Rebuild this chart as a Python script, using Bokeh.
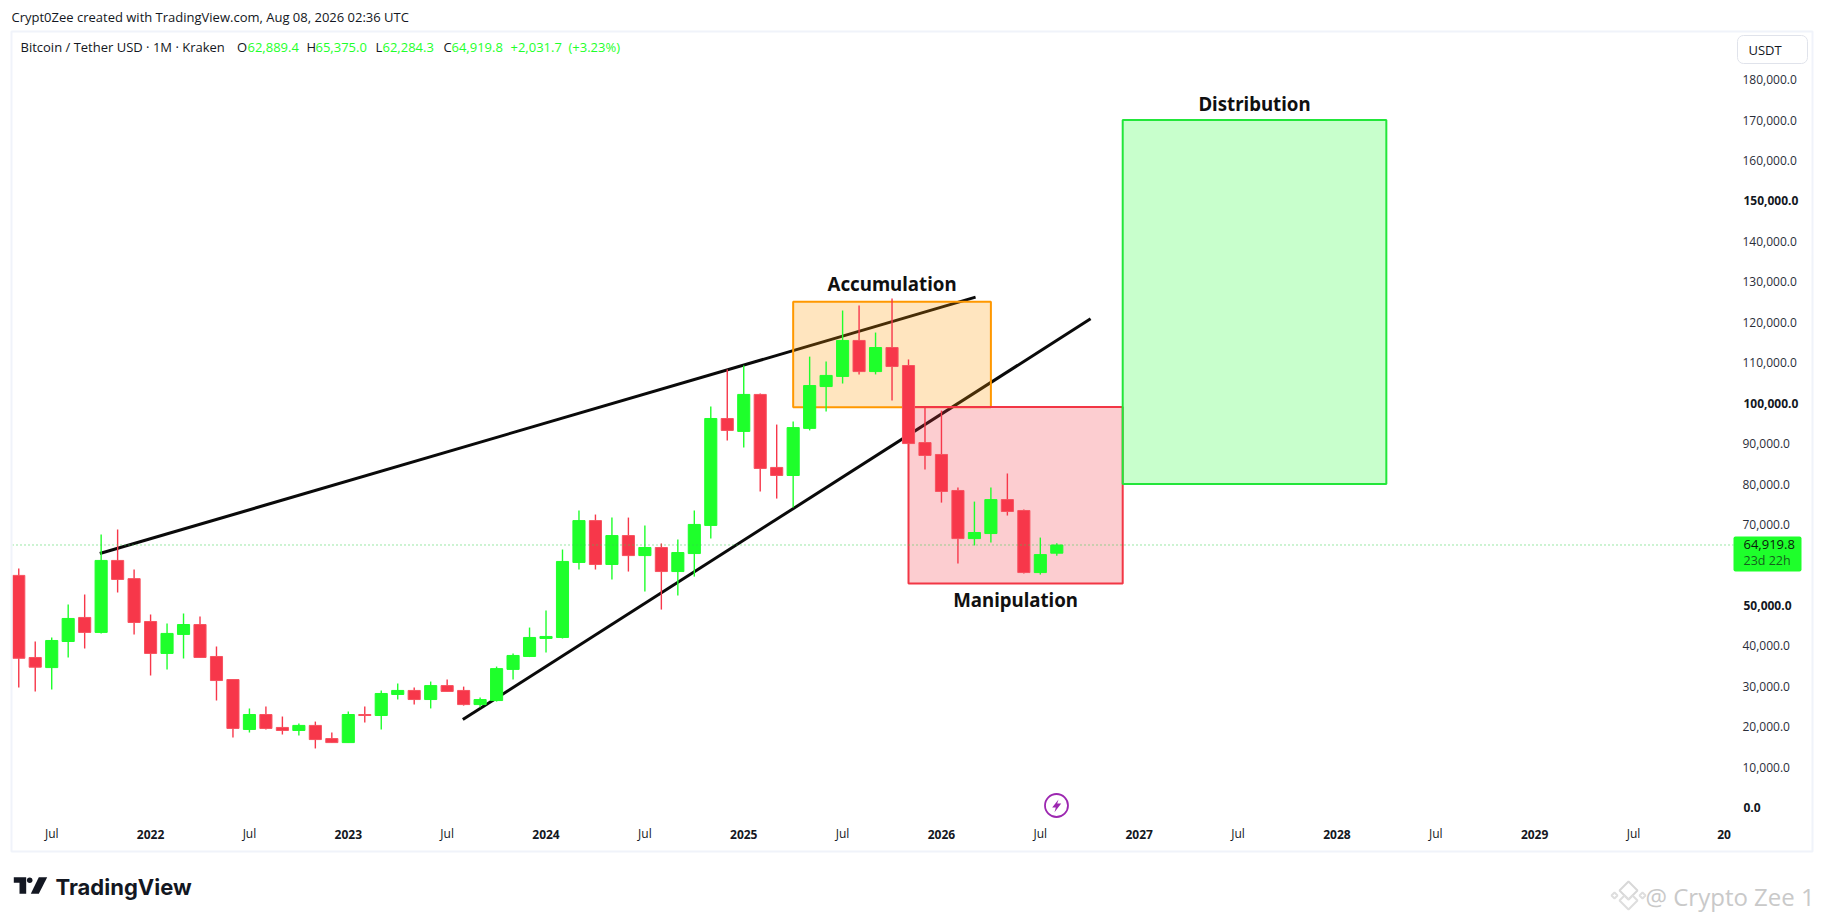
from bokeh.plotting import figure
from bokeh.embed import file_html
from bokeh.layouts import column
from bokeh.resources import INLINE
from bokeh.models import Range1d, LinearAxis, FixedTicker, NumeralTickFormatter, Span, ColumnDataSource
from bokeh.core.properties import value
import numpy as np

# ---------- data ----------
opens = [57400,37100,34600,41050,47000,43300,61100,56600,46000,38100,42800,45250,37350,31650,19300,23000,
         19800,19050,20300,17050,16050,23000,22750,27950,28950,26700,30150,28950,25450,26450,34150,37350,
         41800,42050,60600,70950,60100,67250,62300,64300,58350,62800,69750,96200,93000,102150,84100,82100,
         93750,104100,106600,115500,107800,113750,109300,90250,87300,78400,66500,67750,76150,73450,58100,62889.4]
highs = [59100,41050,42050,50200,52650,67500,68750,58850,47750,45500,48000,47250,39800,31650,24500,25000,
         22500,20800,21250,18550,23750,25000,28950,30650,29700,31150,31650,29900,27200,34850,38100,44500,
         48700,63800,73450,72450,71700,71700,69750,65300,66250,73450,99150,108300,109300,102400,94700,95450,
         111500,110300,122900,124150,117450,125850,110800,98900,98150,79150,75650,79150,82600,73700,66750,65375.0]
lows = [29700,28700,29200,37100,39300,43000,53150,42800,32650,34150,36850,37000,26450,17300,18550,19300,
        18050,17800,14600,16000,16050,21000,19300,26700,25450,24500,28700,25200,24800,26200,31650,37200,
        38350,41800,58850,58850,56400,58350,53400,48950,52450,57100,66500,90750,89000,78150,76400,74200,
        93250,97950,104850,107100,107100,100650,90000,83600,75400,60350,64800,65550,72200,57850,57600,62284.3]
closes = [36900,34700,41300,46750,43300,61100,56400,45750,38100,43050,45250,37100,31400,19550,23000,19550,
          19050,20300,16800,16050,23000,22750,28200,28950,26700,30150,28700,25450,26700,34350,37600,42050,
          42300,60850,70950,60100,67250,62300,64300,58350,63050,70000,96200,93250,102150,83850,82100,93950,
          104350,106850,115500,107800,113750,109050,90000,87050,78150,66500,68000,76150,73200,58100,62550,64919.8]

last_price = 64919.8
upper_line_x, upper_line_y = [4.92, 58.07], [62800, 126200]
lower_line_x, lower_line_y = [26.95, 65.05], [21750, 120850]

zones = ["Accumulation", "Manipulation", "Distribution"]
zone_left = [47, 54, 67]
zone_right = [59, 67, 83]
zone_top = [125100, 99050, 170000]
zone_bottom = [99000, 55400, 80000]
zone_fill = ["#ff9800", "#f23645", "#22ff33"]
zone_line = ["#ff9800", "#f23645", "#22e63a"]
zone_label_x = [53, 60.5, 75]
zone_label_y = [129650, 51350, 174100]

price_ticks = [180000, 170000, 160000, 140000, 130000, 120000, 110000, 90000, 80000, 70000,
               40000, 30000, 20000, 10000]
price_ticks_bold = [150000, 100000, 50000, 0]
jul_ticks = [2, 14, 26, 38, 50, 62, 74, 86, 98]
year_ticks = [8, 20, 32, 44, 56, 68, 80, 92, 103.5]
year_labels = ["2022", "2023", "2024", "2025", "2026", "2027", "2028", "2029", "20"]

GREEN, RED, RED_EDGE = "#1eff2b", "#f7374a", "#f7525f"
INK = "#131722"
SANS = "Open Sans"
W, H = 1824, 920

p = figure(width=W, height=H, output_backend="svg", toolbar_location=None,
           x_range=Range1d(-0.38, 104.07), y_range=Range1d(-3460, 191900),
           min_border_left=12, min_border_top=31, min_border_right=91, min_border_bottom=99,
           background_fill_color="white", border_fill_color="white", x_axis_location=None, y_axis_location=None)
p.xgrid.visible = False
p.ygrid.visible = False
p.outline_line_color = None
p.frame_align = False


def style(ax, bold, size):
    ax.axis_line_color = None
    ax.major_tick_line_color = None
    ax.minor_tick_line_color = None
    ax.major_tick_out = 0
    ax.major_tick_in = 0
    ax.major_label_text_font = SANS
    ax.major_label_text_font_size = size
    ax.major_label_text_color = INK
    ax.major_label_text_font_style = "bold" if bold else "normal"


fmt = NumeralTickFormatter(format="0,0.0")
ya = LinearAxis(ticker=FixedTicker(ticks=price_ticks), formatter=fmt, major_label_standoff=9)
yb = LinearAxis(ticker=FixedTicker(ticks=price_ticks_bold), formatter=fmt, major_label_standoff=-56)
style(ya, False, "12px"); style(yb, True, "12px")
ya.major_label_text_color = "#2a2e39"
p.add_layout(ya, "right"); p.add_layout(yb, "right")

xa = LinearAxis(ticker=FixedTicker(ticks=year_ticks),
                major_label_overrides={t: l for t, l in zip(year_ticks, year_labels)}, major_label_standoff=8)
xb = LinearAxis(ticker=FixedTicker(ticks=jul_ticks),
                major_label_overrides={t: "Jul" for t in jul_ticks}, major_label_standoff=-17)
style(xa, True, "12px"); style(xb, False, "12px")
p.add_layout(xa, "below"); p.add_layout(xb, "below")

# trend lines under the zones
p.line(upper_line_x, upper_line_y, line_color="#0a0a0a", line_width=3)
p.line(lower_line_x, lower_line_y, line_color="#0a0a0a", line_width=3)

# zones
p.quad(left=zone_left, right=zone_right, top=zone_top, bottom=zone_bottom,
       fill_color=zone_fill, fill_alpha=0.25, line_color=zone_line, line_width=2)

# last price line
p.add_layout(Span(location=last_price, dimension="width", line_color="#35cf4a", line_dash="1 3", line_width=1))

# candles
idx = np.arange(len(opens))
up = np.array(closes) >= np.array(opens)
src = ColumnDataSource(dict(x=idx, o=opens, c=closes, h=highs, l=lows,
                            wick=[GREEN if u else RED for u in up],
                            fill=[GREEN if u else RED for u in up],
                            edge=[GREEN if u else RED_EDGE for u in up]))
p.segment("x", "h", "x", "l", source=src, line_color="wick", line_width=1.4)
p.vbar("x", 0.735, "o", "c", source=src, fill_color="fill", line_color="edge", line_width=1)

# zone labels
p.text(zone_label_x, zone_label_y, text=zones, text_align="center", text_baseline="middle",
       text_font=value("Noto Sans"), text_font_size="18.7px", text_font_style="bold", text_color="#101010")

# ---------- transparent sheet on top, in page pixels, for the furniture outside the plot frame ----------
o = figure(width=W, height=H, output_backend="svg", toolbar_location=None,
           x_range=Range1d(0, W), y_range=Range1d(H, 0),
           min_border_left=0, min_border_top=0, min_border_right=0, min_border_bottom=0,
           background_fill_color=None, border_fill_color=None, x_axis_location=None, y_axis_location=None,
           margin=(-H, 0, 0, 0))
o.xgrid.visible = False
o.ygrid.visible = False
o.outline_line_color = None
o.frame_align = False


def label(txt, x, y, size="13px", color=INK, font=SANS, style_="normal", align="left"):
    o.text([x], [y], text=[txt], text_font=value(font), text_font_size=size, text_color=color,
           text_font_style=style_, text_baseline="middle", text_align=align)


def box(l, r, t, b, fill=None, line=None, lw=1, radius=0):
    o.quad(left=[l], right=[r], top=[t], bottom=[b], fill_color=fill, line_color=line, line_width=lw,
           border_radius=radius)


def poly(pts, fill=None, line=None, lw=1):
    o.patch([a for a, _ in pts], [b for _, b in pts], fill_color=fill, line_color=line, line_width=lw)


box(11, 1812, 31, 851, line="#f0f3fa", lw=2)
label("Crypt0Zee created with TradingView.com, Aug 08, 2026 02:36 UTC", 11, 16)
label("Bitcoin / Tether USD \u00b7 1M \u00b7 Kraken", 20, 46.5)
for t, x, c in [("O", 236.5, INK), ("62,889.4", 247, GREEN), ("H", 306, INK), ("65,375.0", 315, GREEN),
                ("L", 375, INK), ("62,284.3", 382, GREEN), ("C", 443, INK), ("64,919.8", 451, GREEN),
                ("+2,031.7", 510, GREEN), ("(+3.23%)", 568, GREEN)]:
    label(t, x, 46.5, color=c)

box(1737, 1807, 35, 63, fill="white", line="#e0e3eb", radius=6)
label("USDT", 1748, 49, color=INK)

box(1733, 1801, 536, 571, fill=GREEN, radius=2)
label("64,919.8", 1743, 544, size="13px", color="#0b1a0d")
label("23d 22h", 1743, 560, size="12.5px", color="#155f1e")

# marker on the time axis
o.scatter([1056], [805], size=23, marker="circle", fill_color="white", line_color="#9c27b0", line_width=1.8)
poly([(1058, 799), (1051.7, 807), (1055.3, 807), (1054, 811.7), (1060.7, 803), (1056.7, 803)], fill="#9c27b0")

# TradingView logo
poly([(13.3, 876.7), (25.7, 876.7), (25.7, 893.3), (19, 893.3), (19, 882.3), (13.3, 882.3)], fill=INK)
o.scatter([29.2], [879.7], size=5.5, marker="circle", fill_color=INK, line_color=None)
poly([(38.3, 876.7), (46.7, 876.7), (38.3, 893.3), (30.3, 893.3)], fill=INK)
label("TradingView", 55, 886, size="22px", font="Inter", style_="bold")

# watermark
poly([(1628, 881), (1637, 890), (1628, 899), (1619, 890)], line="#d8d8d8", lw=2)
poly([(1628, 899), (1632, 895), (1637, 900), (1628, 909), (1619, 900), (1624, 895)], line="#dedede", lw=2)
poly([(1614, 892), (1617, 895), (1614, 898), (1611, 895)], line="#dedede", lw=2)
poly([(1642, 892), (1645, 895), (1642, 898), (1639, 895)], line="#dedede", lw=2)
label("@ Crypto Zee 1", 1645, 896, size="24px", color="#c9c9c9")

open("out.html", "w").write(file_html(column(p, o, spacing=0), INLINE))
